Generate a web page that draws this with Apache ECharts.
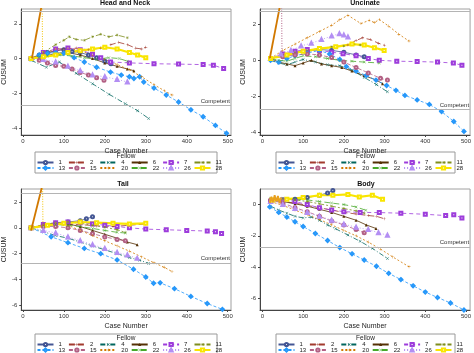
<!DOCTYPE html>
<html>
<head>
<meta charset="utf-8">
<script src="https://cdn.jsdelivr.net/npm/echarts@6/dist/echarts.min.js"></script>
<style>
html, body { margin: 0; padding: 0; background: #fff; }
#chart { width: 474px; height: 353px; }
</style>
</head>
<body>
<div id="chart"></div>
<script>
// 面板和图例
const panelTitles = ['Head and Neck', 'Uncinate', 'Tail', 'Body']
const fellows = ['1', '2', '4', '6', '7', '11', '13', '15', '20', '22', '26', '28']
const xTicks = [0, 100, 200, 300, 400, 500]
const yTicksTop = [-4, -2, 0, 2]
const yTicksTail = [-6, -4, -2, 0, 2]
const yTicksBody = [-6, -4, -2, 0]
const competent = -2.7
const upperLimit = 2.7

// Head and Neck: [case, cusum]
const hn1 = [[20,0],[40,0.2],[60,0.35],[80,0.45],[100,0.5],[120,0.4],[140,0.35],[160,0.2],[180,0.05],[200,-0.15],[215,-0.3]]
const hn2 = [[20,0],[40,0.15],[60,0.3],[80,0.45],[100,0.55],[130,0.6],[160,0.5],[190,0.6],[215,0.8],[234,0.93],[255,0.8],[275,0.6],[290,0.55],[300,0.65]]
const hn4 = [[20,-0.1],[57,-0.5],[89,-0.2],[130,-0.85],[170,-1.45],[210,-2.05],[250,-2.6],[280,-3.0],[307,-3.45]]
const hn6 = [[20,0],[50,0.1],[80,0.3],[110,0.35],[140,0.2],[170,0],[200,-0.25],[230,-0.45],[255,-0.6],[271,-0.7]]
const hn7 = [[20,0],[50,0.35],[80,0.55],[110,0.6],[140,0.5],[170,0.25],[190,0.05],[214,-0.2],[260,-0.25],[320,-0.3],[380,-0.32],[440,-0.35],[465,-0.38],[490,-0.58]]
const hn11 = [[20,0],[50,0.35],[80,0.8],[100,1.05],[113,1.25],[130,1.1],[150,1.05],[170,1.25],[190,1.4],[210,1.25],[230,1.35],[255,1.2]]
const hn13 = [[20,0],[40,0.2],[60,0.3],[80,0.35],[100,0.3],[125,0.05],[150,-0.2],[180,-0.5],[214,-0.78],[240,-0.95],[260,-1.05],[271,-1.15],[285,-1.05],[295,-1.35],[320,-1.7],[350,-2.1],[380,-2.5],[410,-2.95],[440,-3.35],[470,-3.85],[497,-4.3]]
const hn15 = [[20,0],[40,-0.1],[60,-0.25],[80,-0.4],[100,-0.45],[120,-0.6],[140,-0.8],[160,-0.95],[180,-1.1],[198,-1.25]]
const hn20 = [[20,0],[50,0.3],[80,0.55],[110,0.6],[140,0.45],[170,0.2],[200,-0.05],[230,-0.35],[260,-0.65],[290,-1.05],[320,-1.5],[345,-1.85],[364,-2.1]]
const hn22 = [[20,0],[40,0.1],[60,0.15],[90,0.2],[120,0.15],[150,0.05],[180,-0.05],[210,0.05],[235,0],[255,-0.15]]
const hn26 = [[20,0],[50,-0.05],[80,-0.2],[110,-0.45],[140,-0.7],[170,-0.95],[200,-1.05],[230,-1.2],[255,-1.35]]
const hn28 = [[20,0],[50,0.1],[80,0.2],[110,0.35],[140,0.45],[170,0.55],[200,0.65],[230,0.55],[260,0.35],[280,0.2],[300,0.05]]
const hnSpike = [[22,0],[50,3.6]]
const hnDrop = [[47,3.6],[48,0.3]]

// Uncinate
const un1 = [[20,0.1],[50,0.25],[80,0.4],[110,0.5],[140,0.6],[170,0.55],[200,0.45],[230,0.3],[250,0.2]]
const un2 = [[20,0.1],[60,0.3],[100,0.5],[140,0.65],[180,0.75],[210,0.85],[230,1.1],[246,1.25],[265,1.15],[285,0.95],[300,0.83]]
const un4 = [[20,0],[40,-0.15],[60,-0.25],[80,-0.1],[100,0.05],[130,-0.1],[160,-0.25],[190,-0.3],[220,-0.55],[250,-0.95],[280,-1.35],[307,-1.75]]
const un6 = [[20,0.1],[40,-0.1],[60,-0.2],[80,-0.3],[100,-0.15],[120,0],[145,-0.2],[170,-0.3],[195,-0.4],[220,-0.6],[250,-0.85],[280,-1.1],[295,-1.3]]
const un7 = [[20,0.1],[50,0.35],[80,0.5],[110,0.6],[140,0.55],[170,0.45],[198,0.37],[230,0.25],[260,0.1],[287,0],[330,-0.05],[380,-0.07],[430,-0.1],[469,-0.15],[490,-0.28]]
const un11 = [[20,0.1],[50,0.3],[80,0.45],[110,0.55],[140,0.65],[170,0.75],[200,0.8],[225,0.9],[240,0.85]]
const un13 = [[20,0],[40,-0.1],[60,0.1],[80,0.25],[110,0.4],[140,0.55],[165,0.35],[190,0.05],[206,-0.35],[230,-0.6],[255,-0.85],[279,-1.1],[305,-1.4],[328,-1.67],[350,-1.95],[380,-2.2],[410,-2.45],[440,-2.85],[470,-3.4],[495,-3.95]]
const un15 = [[20,0.1],[50,0.2],[80,0.3],[110,0.35],[140,0.3],[170,0.15],[200,-0.1],[230,-0.4],[260,-0.7],[290,-1.0],[307,-1.1]]
const un20 = [[20,0.1],[50,0.55],[80,0.9],[110,1.25],[140,1.6],[170,1.95],[190,2.25],[210,2.5],[242,2.04],[262,2.22],[275,2.1],[287,2.26],[310,1.9],[335,1.45],[360,1.07]]
const un22 = [[20,0.1],[40,0],[60,-0.05],[80,0.1],[100,0.25],[130,0.2],[160,0.1],[190,0],[220,-0.05],[250,-0.1],[287,-0.15]]
const un26 = [[20,0.1],[45,0.35],[70,0.55],[95,0.8],[120,0.95],[145,1.15],[170,1.35],[189,1.48],[200,1.4],[210,1.3]]
const un28 = [[20,0.1],[60,0.3],[100,0.5],[140,0.65],[180,0.75],[220,0.9],[250,0.85],[275,0.7],[299,0.55]]
const unSpike = [[18,0.1],[48,3.6]]
const unDrop = [[47,3.6],[48,0.5]]

// Tail
const tl1 = [[20,0],[50,0.2],[80,0.35],[110,0.45],[140,0.55],[155,0.7],[170,0.85]]
const tl2 = [[20,0],[60,0.2],[100,0.3],[140,0.25],[180,0.15],[220,0.1],[260,0.2],[300,0.3]]
const tl4 = [[20,0],[50,-0.3],[80,-0.6],[110,-0.8],[140,-1.1],[170,-1.4],[200,-1.7],[230,-2.0],[260,-2.3],[285,-2.5],[307,-2.75]]
const tl6 = [[20,0],[50,0.2],[80,0.35],[110,0.3],[140,0.1],[170,-0.2],[200,-0.5],[230,-0.8],[255,-1.1],[279,-1.3]]
const tl7 = [[20,0],[50,0.25],[80,0.4],[110,0.45],[140,0.4],[170,0.3],[200,0.2],[230,0.1],[260,0],[300,-0.1],[350,-0.15],[400,-0.2],[450,-0.25],[470,-0.3],[485,-0.43]]
const tl11 = [[20,0],[50,0.25],[80,0.4],[110,0.45],[140,0.35],[170,0.2],[200,0.05],[230,-0.15],[250,-0.35]]
const tl13 = [[20,0],[69,-0.69],[110,-1.15],[150,-1.59],[190,-2.0],[230,-2.48],[270,-3.2],[300,-3.8],[319,-4.28],[335,-4.25],[370,-4.7],[410,-5.3],[450,-5.85],[487,-6.3]]
const tl15 = [[20,0],[50,0.1],[80,0.1],[110,0],[140,-0.2],[170,-0.45],[200,-0.7],[230,-0.9],[250,-1.0]]
const tl20 = [[20,0],[50,0.2],[80,0.3],[110,0.2],[140,-0.2],[170,-0.6],[200,-1.0],[230,-1.4],[260,-1.8],[290,-2.25],[320,-2.7],[345,-3.05],[364,-3.38]]
const tl22 = [[20,0],[50,0.15],[80,0.25],[110,0.2],[140,0.1],[170,-0.05],[200,-0.2],[230,-0.35],[250,-0.4]]
const tl26 = [[20,0],[50,-0.2],[80,-0.4],[110,-0.7],[140,-1.0],[170,-1.3],[200,-1.6],[230,-1.9],[255,-2.1],[279,-2.36]]
const tl28 = [[20,0],[60,0.2],[100,0.35],[140,0.45],[180,0.4],[220,0.35],[260,0.3],[300,0.35]]
const tlSpike = [[20,-0.2],[50,3.6]]
const tlDrop = [[48,3.6],[49,0.3]]

// Body
const bd1 = [[20,0.2],[50,0.3],[80,0.35],[110,0.45],[140,0.6],[160,0.75],[173,0.9]]
const bd2 = [[20,0.3],[50,0.2],[80,0.1],[110,-0.05],[140,-0.2],[170,-0.35],[200,-0.5],[230,-0.6],[260,-0.7],[280,-0.75],[299,-0.9]]
const bd4 = [[20,-0.1],[40,-0.35],[60,-0.55],[80,-0.75],[100,-0.85],[120,-0.8],[140,-1.0],[160,-1.3],[180,-1.55],[210,-1.95],[240,-2.35],[270,-2.8],[307,-3.45]]
const bd6 = [[20,0.3],[50,0.2],[80,0.05],[110,-0.1],[140,-0.3],[170,-0.5],[200,-0.75],[230,-1.0],[255,-1.3],[279,-1.53]]
const bd7 = [[20,0.2],[50,0.3],[80,0.2],[110,0],[140,-0.2],[170,-0.35],[200,-0.45],[240,-0.5],[287,-0.51],[340,-0.55],[400,-0.62],[450,-0.7],[470,-0.65],[490,-0.85]]
const bd11 = [[20,0.3],[50,0.35],[80,0.3],[110,0.2],[140,0.05],[170,-0.1],[200,-0.25],[230,-0.4],[250,-0.55]]
const bd13 = [[18,-0.15],[40,-0.5],[60,-0.8],[80,-1.1],[100,-1.4],[130,-1.85],[160,-2.3],[190,-2.75],[220,-3.15],[250,-3.55],[280,-3.95],[310,-4.4],[340,-4.8],[370,-5.2],[400,-5.6],[430,-5.95],[462,-6.3],[495,-6.75]]
const bd15 = [[20,0.3],[50,0.1],[80,-0.2],[110,-0.45],[140,-0.75],[170,-1.05],[200,-1.3],[230,-1.6],[250,-1.8]]
const bd20 = [[20,0.2],[50,-0.05],[80,-0.35],[110,-0.65],[140,-0.95],[170,-1.3],[200,-1.65],[230,-2.0],[260,-2.4],[290,-2.85],[320,-3.35],[360,-3.98]]
const bd22 = [[20,0.4],[50,0.4],[80,0.35],[110,0.3],[140,0.2],[170,0.1],[200,0],[230,-0.15],[254,-0.36]]
const bd26 = [[20,0.2],[50,0],[80,-0.25],[110,-0.5],[140,-0.75],[170,-1.0],[200,-1.25],[230,-1.45],[260,-1.6],[285,-1.8],[307,-1.96]]
const bd28 = [[24,0.3],[60,0.35],[100,0.45],[140,0.6],[173,0.6],[210,0.65],[238,0.49],[270,0.6],[295,0.34]]
const bdZig = [[18,0.1],[22,0.5],[26,0.15],[30,0.6],[34,0.2],[38,0.55],[42,0.1],[46,0.45]]

const panelData = [
  [hn1, hn2, hn4, hn6, hn7, hn11, hn13, hn15, hn20, hn22, hn26, hn28],
  [un1, un2, un4, un6, un7, un11, un13, un15, un20, un22, un26, un28],
  [tl1, tl2, tl4, tl6, tl7, tl11, tl13, tl15, tl20, tl22, tl26, tl28],
  [bd1, bd2, bd4, bd6, bd7, bd11, bd13, bd15, bd20, bd22, bd26, bd28],
]
const spikes = [hnSpike, unSpike, tlSpike, null]
const drops = [hnDrop, unDrop, tlDrop, null]
const yTicks = [yTicksTop, yTicksTop, yTicksTail, yTicksBody]

// 位置和样式
const font = 'Liberation Sans, Arial, sans-serif'
const grids = [
  { left: 20, top: 9, width: 211, height: 126 },
  { left: 260, top: 9, width: 212, height: 126 },
  { left: 20, top: 189, width: 211, height: 121 },
  { left: 260, top: 189, width: 212, height: 121 },
]
const yRanges = [[-4.4, 2.85], [-4.15, 2.85], [-6.35, 3.0], [-6.75, 1.0]]
const xRanges = [[-4, 508], [-6, 510], [-4, 508], [-6, 510]]
const boxes = [
  { x: 35, y: 152, w: 182, h: 21 },
  { x: 276, y: 152, w: 179, h: 21 },
  { x: 35, y: 334, w: 182, h: 21 },
  { x: 276, y: 334, w: 179, h: 21 },
]
const titlePos = [[125, 3], [365, 3], [123, 184], [366, 184]]

const plus = 'path://M0,4.4h10v1.2h-10z M4.4,0h1.2v10h-1.2z'
const cross = 'path://M0.8,0L5,4.2L9.2,0L10,0.8L5.8,5L10,9.2L9.2,10L5,5.8L0.8,10L0,9.2L4.2,5L0,0.8z'
const star = 'path://M0,4.5h10v1h-10z M4.5,0h1v10h-1z M1,1.7L1.7,1L9,8.3L8.3,9z M8.3,1L9,1.7L1.7,9L1,8.3z'

const styles = {
  '1': { color: '#445694', dash: 'solid', symbol: 'emptyCircle' },
  '2': { color: '#A23A2E', dash: [6, 3], symbol: plus },
  '4': { color: '#01665E', dash: [5, 2, 1, 2], symbol: cross },
  '6': { color: '#543005', dash: 'solid', symbol: 'triangle' },
  '7': { color: '#9D3CDB', dash: [4, 3], symbol: 'emptyRect' },
  '11': { color: '#7F8E1F', dash: [6, 2, 2, 2], symbol: star },
  '13': { color: '#2597FA', dash: [3, 2], symbol: 'emptyDiamond' },
  '15': { color: '#B26084', dash: [4, 2], symbol: 'emptyCircle' },
  '20': { color: '#D17800', dash: [2, 2], symbol: plus },
  '22': { color: '#47A82A', dash: [6, 3], symbol: cross },
  '26': { color: '#B38EF3', dash: [1, 2], symbol: 'emptyTriangle' },
  '28': { color: '#F9E500', dash: 'solid', symbol: 'emptyRect', width: 2.2 },
}

let myCharts = echarts.init(document.getElementById('chart'), null, { renderer: 'canvas' })

let xAxes = []
let yAxes = []
let series = []
let legends = []
let graphics = []

for (let p = 0; p < 4; p++) {
  xAxes.push({
    type: 'value', gridIndex: p, min: xRanges[p][0], max: xRanges[p][1],
    name: 'Case Number', nameLocation: 'middle', nameGap: 13,
    nameTextStyle: { fontSize: 7, color: '#222', fontFamily: font },
    axisLine: { onZero: false, lineStyle: { color: '#444' } },
    axisTick: { customValues: xTicks, length: 2, lineStyle: { color: '#444' } },
    axisLabel: { customValues: xTicks, fontSize: 6, margin: 3, color: '#333', fontFamily: font },
    splitLine: { show: false },
  })
  yAxes.push({
    type: 'value', gridIndex: p, min: yRanges[p][0], max: yRanges[p][1],
    name: 'CUSUM', nameLocation: 'middle', nameGap: 12,
    nameTextStyle: { fontSize: 7, color: '#222', fontFamily: font },
    axisLine: { show: true, onZero: false, lineStyle: { color: '#444' } },
    axisTick: { show: true, customValues: yTicks[p], length: 2, lineStyle: { color: '#444' } },
    axisLabel: { customValues: yTicks[p], fontSize: 6, margin: 4, color: '#333', fontFamily: font },
    splitLine: { show: false },
  })

  // 参考线
  let refLines = [{ yAxis: competent, label: { show: true, formatter: 'Competent', position: 'insideEndTop', distance: 1, fontSize: 6, color: '#333', fontFamily: font } }]
  if (yRanges[p][1] > upperLimit) refLines.push({ yAxis: upperLimit, label: { show: false } })
  series.push({
    type: 'line', name: 'ref', xAxisIndex: p, yAxisIndex: p, data: [], z: 1,
    markLine: { silent: true, symbol: 'none', animation: false, lineStyle: { color: '#b4b4b4', width: 1, type: 'solid' }, data: refLines },
  })

  fellows.forEach((f, i) => {
    let st = styles[f]
    series.push({
      type: 'line', name: f, xAxisIndex: p, yAxisIndex: p, data: panelData[p][i],
      symbol: st.symbol, symbolSize: 3, showAllSymbol: true,
      lineStyle: { color: st.color, width: st.width || 0.8, type: st.dash },
      itemStyle: { color: st.color, borderWidth: 0.6 },
      emphasis: { disabled: true }, animation: false, clip: true, z: 2,
    })
  })

  if (spikes[p]) {
    series.push({
      type: 'line', name: 'spike', xAxisIndex: p, yAxisIndex: p, data: spikes[p], symbol: 'none',
      lineStyle: { color: '#D17800', width: 1.8 }, animation: false, clip: true, z: 3,
    })
    series.push({
      type: 'line', name: 'drop', xAxisIndex: p, yAxisIndex: p, data: drops[p], symbol: 'none',
      lineStyle: { color: p === 1 ? '#B26084' : '#F2C200', width: 1, type: [1, 1.5] }, animation: false, clip: true, z: 3,
    })
  } else {
    series.push({
      type: 'line', name: 'zig', xAxisIndex: p, yAxisIndex: p, data: bdZig, symbol: 'none',
      lineStyle: { color: '#E8A020', width: 1.8 }, animation: false, clip: true, z: 3,
    })
  }

  // 图例
  let b = boxes[p]
  ;[fellows.slice(0, 6), fellows.slice(6)].forEach((row, r) => {
    legends.push({
      data: row, orient: 'horizontal', left: b.x + 1.5, top: b.y + (r ? 13 : 7.5),
      padding: 0, itemWidth: 16, itemHeight: 4, itemGap: 1.4, selectedMode: false,
      textStyle: { fontSize: 6, width: 8, lineHeight: 6, color: '#222', fontFamily: font },
    })
  })
  graphics.push({
    type: 'rect', shape: { x: b.x, y: b.y, width: b.w, height: b.h },
    style: { fill: 'none', stroke: '#9a9a9a', lineWidth: 1 }, silent: true,
  })
  graphics.push({
    type: 'text', x: b.x + b.w / 2, y: b.y + 4.5,
    style: { text: 'Fellow', fill: '#222', align: 'center', verticalAlign: 'middle', font: '6.5px ' + font },
  })
  graphics.push({
    type: 'text', x: titlePos[p][0], y: titlePos[p][1],
    style: { text: panelTitles[p], fill: '#111', align: 'center', verticalAlign: 'middle', font: 'bold 7px ' + font },
  })
}

let option = {
  backgroundColor: '#fff',
  animation: false,
  grid: grids.map(g => Object.assign({ show: true, borderColor: '#a0a0a0', borderWidth: 1, backgroundColor: 'transparent' }, g)),
  xAxis: xAxes,
  yAxis: yAxes,
  legend: legends,
  series: series,
  graphic: graphics,
}
myCharts.setOption(option)
</script>
</body>
</html>
